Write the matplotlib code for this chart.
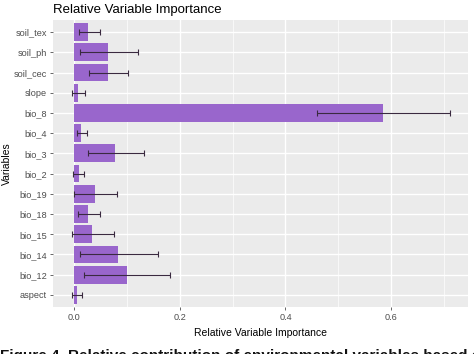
import numpy as np
import matplotlib
matplotlib.use("Agg")
import matplotlib.pyplot as plt

# ======================= Data (bottom -> top) ======================= #
variables = ["aspect", "bio_12", "bio_14", "bio_15", "bio_18", "bio_19", "bio_2",
             "bio_3", "bio_4", "bio_8", "slope", "soil_cec", "soil_ph", "soil_tex"]
importance = [0.005, 0.100, 0.084, 0.035, 0.027, 0.040, 0.009,
              0.078, 0.014, 0.585, 0.007, 0.065, 0.065, 0.027]
err_low = [-0.004, 0.019, 0.011, -0.003, 0.007, 0.000, -0.001,
           0.026, 0.005, 0.460, -0.004, 0.028, 0.012, 0.0095]
err_high = [0.015, 0.182, 0.158, 0.076, 0.050, 0.082, 0.019,
            0.133, 0.025, 0.711, 0.020, 0.103, 0.122, 0.049]
x_ticks = [0.0, 0.2, 0.4, 0.6]
x_ticklabels = ["0.0", "0.2", "0.4", "0.6"]

plt.rcParams["font.family"] = ["Liberation Sans", "DejaVu Sans"]

fig = plt.figure(figsize=(4.74, 3.54), dpi=100)
ax = fig.add_axes([0.1118, 0.1328, 0.8752, 0.8107])

ax.set_facecolor("#EBEBEB")
for s in ax.spines.values():
    s.set_visible(False)

pos = np.arange(len(variables))
ax.set_xlim(-0.0397, 0.745)
ax.set_ylim(-0.6, len(variables) - 0.4)

# grid
for v in [0.1, 0.3, 0.5, 0.7]:
    ax.axvline(v, color="white", lw=0.5, zorder=0)
for v in x_ticks:
    ax.axvline(v, color="white", lw=1.0, zorder=0)
for p in pos:
    ax.axhline(p, color="white", lw=1.0, zorder=0)

ax.barh(pos, importance, height=0.88, color="#9966CC", zorder=2)

ax.errorbar([(l + h) / 2 for l, h in zip(err_low, err_high)], pos,
            xerr=[(h - l) / 2 for l, h in zip(err_low, err_high)],
            fmt="none", ecolor="#3a2a40", elinewidth=0.8, capsize=2.5,
            capthick=0.8, zorder=3)

ax.set_yticks(pos)
ax.set_yticklabels(variables)
ax.set_xticks(x_ticks)
ax.set_xticklabels(x_ticklabels)
ax.tick_params(axis="both", colors="#4D4D4D", labelsize=6.6, length=2.5, width=0.6, pad=2)

ax.set_xlabel("Relative Variable Importance", fontsize=7.5)
ax.xaxis.set_label_coords(0.5, -0.072)
ax.set_ylabel("Variables", fontsize=7.5)
ax.yaxis.set_label_coords(-0.1, 0.5)
ax.set_title("Relative Variable Importance", loc="left", fontsize=9.5, pad=5)

# caption below the chart, cut off by the bottom edge as in the source
fig.text(0.0, 0.013, "Figure 4. Relative contribution of environmental variables based on the ensemble model",
         fontsize=11, fontweight="bold", va="top", ha="left", color="#111111")

fig.savefig("out.png", dpi=100)
